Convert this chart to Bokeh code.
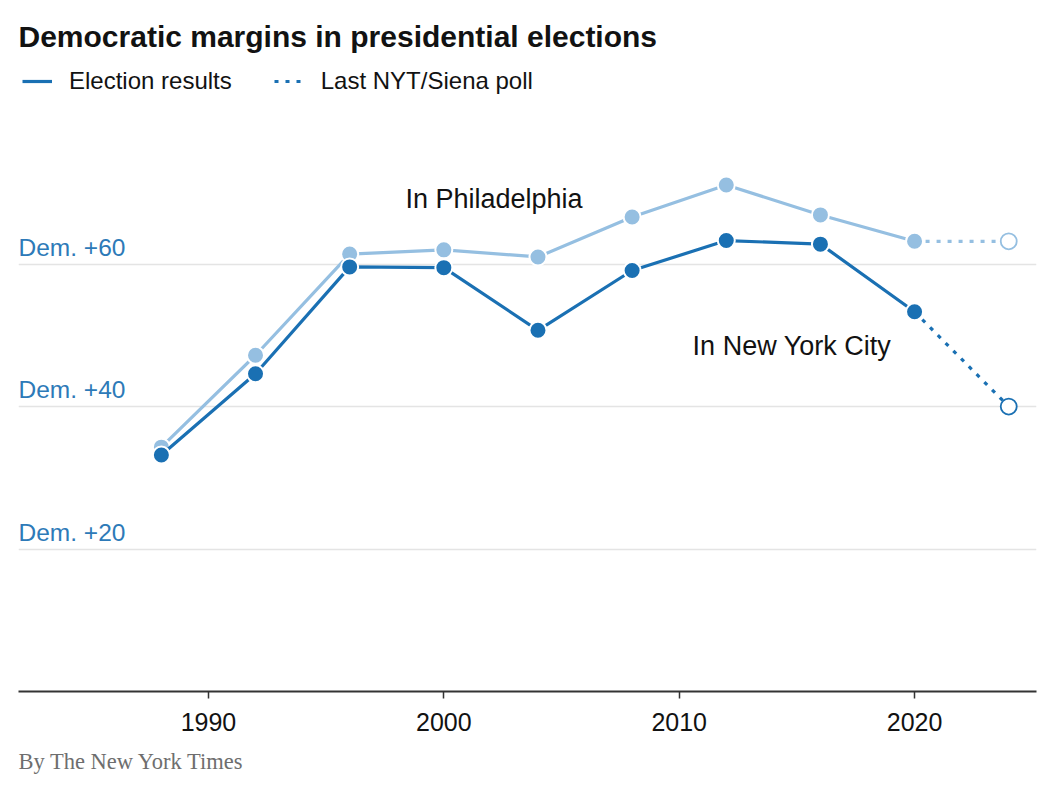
from bokeh.plotting import figure
from bokeh.models import (Range1d, FixedTicker, Grid, Label, Legend, LegendItem,
                          ColumnDataSource, Title)
from bokeh.core.properties import value
from bokeh.embed import file_html
from bokeh.resources import INLINE

# ---------------- data ----------------
years = [1988, 1992, 1996, 2000, 2004, 2008, 2012, 2016, 2020]
nyc_margin = [33.2, 44.6, 59.6, 59.5, 50.7, 59.1, 63.3, 62.8, 53.3]
philly_margin = [34.3, 47.2, 61.4, 62.0, 61.0, 66.6, 71.1, 66.9, 63.2]
poll_years = [2020, 2024]
nyc_poll = [53.3, 40.0]
philly_poll = [63.2, 63.2]
y_ticks = [20, 40, 60]
y_tick_labels = ["Dem. +20", "Dem. +40", "Dem. +60"]
x_ticks = [1990, 2000, 2010, 2020]

DARK = "#1a70b3"
LIGHT = "#95bfe1"
LABEL_BLUE = "#2d7ab8"
FONT = "Liberation Sans"

p = figure(width=1040, height=790, output_backend="svg", toolbar_location=None,
           x_range=Range1d(1981.93, 2025.18), y_range=Range1d(0, 97.0),
           y_axis_location=None, min_border_left=18, min_border_right=4,
           min_border_top=0, min_border_bottom=99)
p.outline_line_color = None
p.background_fill_color = "white"
p.border_fill_color = "white"
p.xgrid.visible = False
p.ygrid.visible = False

grid = Grid(dimension=1, ticker=FixedTicker(ticks=y_ticks),
            grid_line_color="#e4e4e4", grid_line_width=1.5)
p.add_layout(grid)

ax = p.xaxis[0]
ax.ticker = FixedTicker(ticks=x_ticks)
ax.axis_line_color = "#333333"
ax.axis_line_width = 2
ax.major_tick_line_color = "#333333"
ax.major_tick_line_width = 1.5
ax.major_tick_in = 0
ax.major_tick_out = 7
ax.minor_tick_line_color = None
ax.major_label_text_font = FONT
ax.major_label_text_font_size = "25px"
ax.major_label_text_color = "#121212"
ax.major_label_standoff = 14

# y tick labels inside the frame
ysrc = ColumnDataSource(dict(x=[1981.93] * len(y_ticks), y=y_ticks, t=y_tick_labels))
p.text(x="x", y="y", text="t", source=ysrc, text_font=value(FONT),
       text_font_size="24.5px", text_color=LABEL_BLUE, text_align="left",
       text_baseline="alphabetic", y_offset=-17)

# Philadelphia (light)
p.line(years, philly_margin, line_color=LIGHT, line_width=3.2)
p.line(poll_years, philly_poll, line_color=LIGHT, line_width=3.2, line_dash="4 7")
p.scatter(years, philly_margin, size=17, fill_color=LIGHT, line_color="white", line_width=2)
p.scatter(poll_years[1:], philly_poll[1:], size=16, fill_color="white", line_color=LIGHT, line_width=1.8)

# New York City (dark)
nyc_line = p.line(years, nyc_margin, line_color=DARK, line_width=3.2)
nyc_poll_line = p.line(poll_years, nyc_poll, line_color=DARK, line_width=3.2, line_dash="4 7")
p.scatter(years, nyc_margin, size=17, fill_color=DARK, line_color="white", line_width=2)
p.scatter(poll_years[1:], nyc_poll[1:], size=16, fill_color="white", line_color=DARK, line_width=1.8)

# series labels
p.text(x=[1998.37], y=[69.2], text=["In Philadelphia"], text_font=value(FONT),
       text_font_size="27px", text_color="#121212", text_baseline="alphabetic")
p.text(x=[2010.57], y=[48.5], text=["In New York City"], text_font=value(FONT),
       text_font_size="27px", text_color="#121212", text_baseline="alphabetic")

# legend
legend = Legend(items=[LegendItem(label="Election results", renderers=[nyc_line]),
                       LegendItem(label="Last NYT/Siena poll", renderers=[nyc_poll_line])],
                orientation="horizontal", location=(4, 595.5),
                glyph_width=30, glyph_height=30, label_height=30,
                label_standoff=17, spacing=42, padding=0, margin=0,
                border_line_color=None, background_fill_alpha=0,
                label_text_font=FONT, label_text_font_size="24px",
                label_text_color="#121212")
p.add_layout(legend, "center")

# title & source
p.add_layout(Label(x=0, y=655, x_units="screen", y_units="screen",
                   text="Democratic margins in presidential elections",
                   text_font=FONT, text_font_style="bold", text_font_size="30px",
                   text_color="#121212", text_baseline="alphabetic"))
p.add_layout(Title(text="By The New York Times", align="left",
                   text_font="Liberation Serif", text_font_style="normal",
                   text_font_size="22.5px", text_color="#6e6e6e",
                   standoff=27), "below")

open("out.html", "w").write(file_html(p, INLINE))
